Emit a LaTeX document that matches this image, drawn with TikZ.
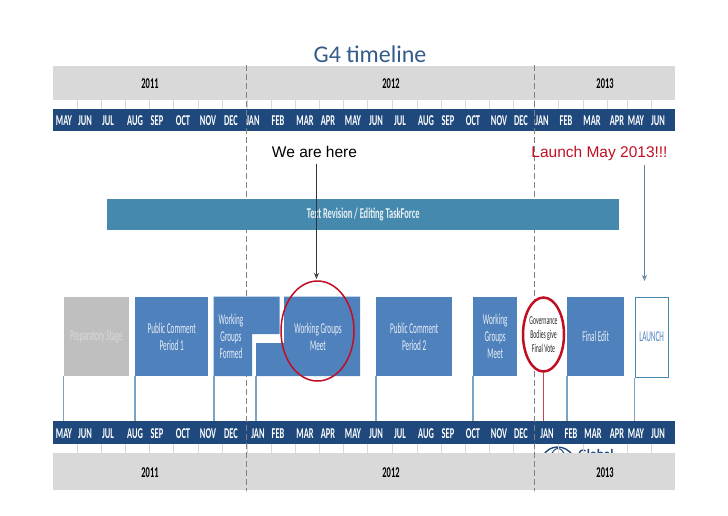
\documentclass[tikz,border=0pt]{standalone}
\usepackage{fontspec}
\usetikzlibrary{shapes.geometric, arrows.meta}
\setmainfont{Carlito}
\newfontfamily\condfont[FakeStretch=0.56]{Carlito}
\newfontfamily\narrowfont[FakeStretch=0.48]{Carlito}
\newfontfamily\armfont{Liberation Sans}
\definecolor{yearfill}{HTML}{D9D9D9}
\definecolor{barblue}{HTML}{1F497D}
\definecolor{phaseblue}{HTML}{4F81BD}
\definecolor{taskblue}{HTML}{4689AE}
\definecolor{stemblue}{HTML}{7BA3C6}
\definecolor{circred}{HTML}{C00F23}
\tikzset{
  yearband/.style={fill=yearfill, draw=none, anchor=north west, minimum width=622pt, inner sep=0pt},
  monthbar/.style={fill=barblue, draw=none, anchor=north west, minimum width=622pt, inner sep=0pt},
  monthtext/.style={text=white, font=\condfont\bfseries\fontsize{15}{15}\selectfont, inner sep=0pt},
  yeartext/.style={text=black, font=\condfont\bfseries\fontsize{15}{15}\selectfont, inner sep=0pt},
  phasebox/.style={fill=phaseblue, draw=none, anchor=north west, minimum height=79.5pt, inner sep=0pt,
    text=white!88!phaseblue, align=center, font=\narrowfont\fontsize{15}{17}\selectfont},
  phasetext/.style={text=white!88!phaseblue, align=center, inner sep=0pt, font=\narrowfont\fontsize{15}{17}\selectfont},
  stem/.style={draw=stemblue, line width=1.2pt},
  yeardash/.style={draw=gray, line width=0.7pt, dash pattern=on 6pt off 3pt},
  pointer/.style={-{Stealth[open,length=6pt,width=5pt]}, line width=0.7pt}
}
\begin{document}
\begin{tikzpicture}[x=1pt, y=-1pt]
  \useasboundingbox (0,0) rectangle (728,515);

  % Title
  \node[text=barblue!90!white, font=\fontsize{24}{24}\selectfont, inner sep=0pt] (title) at (370,54) {G4 timeline};

  % Logo behind the lower bars
  \node[text=barblue, font=\bfseries\fontsize{13}{13}\selectfont, inner sep=0pt, anchor=base] (logo) at (596,458) {Global};
  \draw[barblue, line width=1.4pt] (543,456) .. controls (549,444) and (566,444) .. (573,456);
  \draw[barblue, line width=1pt] (551,456) .. controls (554,446) and (562,446) .. (565,456);

  % Year bands and month bars
  \node[yearband, minimum height=33.5pt] (topyears) at (53,66) {};
  \node[monthbar, minimum height=22pt] (topmonths) at (53,109) {};
  \node[monthbar, minimum height=23pt] (botmonths) at (53,421) {};
  \node[yearband, minimum height=37pt] (botyears) at (53,453) {};

  % Ticks between band and bar
  \foreach \x in {77,101,125,149,173,198,222,247,271,295,319,343,367,392,417,441,465,489,513,534,558,583,607,627,651} {
    \draw[yearfill, line width=0.6pt] (\x,99.5) -- (\x,109);
  }
  \foreach \x in {77,101,125,149,173,198,222,247,271,295,319,343,367,392,417,441,465,489,513,534,558,583,627,651} {
    \draw[yearfill, line width=0.6pt] (\x,444) -- (\x,453);
  }

  % Years
  \foreach \y/\x in {2011/150, 2012/391, 2013/605} {
    \node[yeartext] (top\y) at (\x,83.5) {\y};
    \node[yeartext] (bot\y) at (\x,473) {\y};
  }

  % Months
  \foreach \i/\m/\x/\z in {1/MAY/64/64, 2/JUN/85/85, 3/JUL/108/108, 4/AUG/135/135, 5/SEP/157/157, 6/OCT/183/183, 7/NOV/208/208, 8/DEC/231/231, 9/JAN/253/258, 10/FEB/278/278, 11/MAR/305/305, 12/APR/328/328, 13/MAY/353/353, 14/JUN/376/376, 15/JUL/400/400, 16/AUG/426/426, 17/SEP/448/448, 18/OCT/473/473, 19/NOV/499/499, 20/DEC/521/521, 21/JAN/542/547, 22/FEB/566/571, 23/MAR/592/593, 24/APR/617/617, 25/MAY/636/636, 26/JUN/658/658} {
    \node[monthtext] (topm\i) at (\x,121) {\m};
    \node[monthtext] (botm\i) at (\z,434) {\m};
  }

  % Year boundaries
  \coordinate (dashatop) at (246.5,65);
  \coordinate (dashabot) at (246.5,491);
  \coordinate (dashbtop) at (534.5,65);
  \coordinate (dashbbot) at (534.5,491);
  \draw[yeardash] (dashatop) -- (dashabot);
  \draw[yeardash] (dashbtop) -- (dashbbot);

  % Task force bar
  \node[fill=taskblue, anchor=north west, minimum width=512pt, minimum height=31pt, inner sep=0pt,
    text=white!88!taskblue, font=\condfont\bfseries\fontsize{15}{15}\selectfont] (taskforce) at (107,199) {Text Revision / Editing TaskForce};

  % Phases
  \node[phasebox, fill=black!25, minimum width=65pt, text=white!85!black] (prep) at (63.5,296.5) {Preparatory Stage};
  \node[phasebox, minimum width=73pt] (pub1) at (135,296.5) {Public Comment\\Period 1};
  \fill[phaseblue] (213.5,296.5) -- (279.5,296.5) -- (279.5,334) -- (252,334) -- (252,376) -- (213.5,376) -- cycle;
  \fill[phaseblue] (256,343) -- (284,343) -- (284,296.5) -- (360,296.5) -- (360,376) -- (256,376) -- cycle;
  \node[phasetext] (wgformed) at (231,336) {Working\\Groups\\Formed};
  \node[phasetext] (wgmeet) at (318,337) {Working Groups\\Meet};
  \node[phasebox, minimum width=76pt] (pub2) at (376,296.5) {Public Comment\\Period 2};
  \node[phasebox, minimum width=44pt] (wgmeetb) at (473,296.5) {Working\\Groups\\Meet};
  \node[phasebox, minimum width=57pt] (finaledit) at (567,296.5) {Final Edit};
  \node[phasebox, fill=white, draw=taskblue, line width=1.2pt, minimum width=33pt, minimum height=80pt,
    text=phaseblue] (launch) at (634.5,296.5) {LAUNCH};

  % Stems down to the month bar
  \coordinate (wgformedfoot) at (214,376);
  \coordinate (wgmeetfoot) at (256,376);
  \draw[stem] (prep.south west) -- (prep.south west |- botmonths.north);
  \draw[stem] (pub1.south west) -- (pub1.south west |- botmonths.north);
  \draw[stem] (wgformedfoot) -- (wgformedfoot |- botmonths.north);
  \draw[stem] (wgmeetfoot) -- (wgmeetfoot |- botmonths.north);
  \draw[stem] (pub2.south west) -- (pub2.south west |- botmonths.north);
  \draw[stem] (wgmeetb.south west) -- (wgmeetb.south west |- botmonths.north);
  \draw[stem] (finaledit.south west) -- (finaledit.south west |- botmonths.north);
  \draw[stem] (launch.south west) -- (launch.south west |- botmonths.north);

  % Circles
  \node[ellipse, draw=circred, line width=1.5pt, minimum width=73pt, minimum height=100pt, inner sep=0pt] (nowring) at (317.5,331) {};
  \node[ellipse, draw=circred, fill=white, line width=2.5pt, minimum width=41pt, minimum height=74pt, inner sep=0pt] (govern) at (543.5,334.5) {};
  \node[align=center, text=black!85, inner sep=0pt, font=\narrowfont\fontsize{12}{14}\selectfont] (governtext) at (543.5,335) {Governance\\Bodies give\\Final Vote};
  \draw[circred!80!white, line width=1.5pt] (govern.south) -- (govern.south |- botmonths.north);

  % Callouts
  \node[font=\armfont\fontsize{15.5}{16}\selectfont, inner sep=0pt] (here) at (314.5,152) {We are here};
  \node[font=\armfont\fontsize{15.5}{16}\selectfont, text=circred, inner sep=0pt] (launchnote) at (599.5,153) {Launch May 2013!!!};
  \coordinate (herefoot) at (316.5,279);
  \coordinate (launchfoot) at (644.5,281);
  \draw[pointer, draw=black!80] (here.south -| herefoot) ++(0,6) -- (herefoot);
  \draw[pointer, draw=stemblue!80!black] (launchnote.south -| launchfoot) ++(0,5) -- (launchfoot);
\end{tikzpicture}
\end{document}
